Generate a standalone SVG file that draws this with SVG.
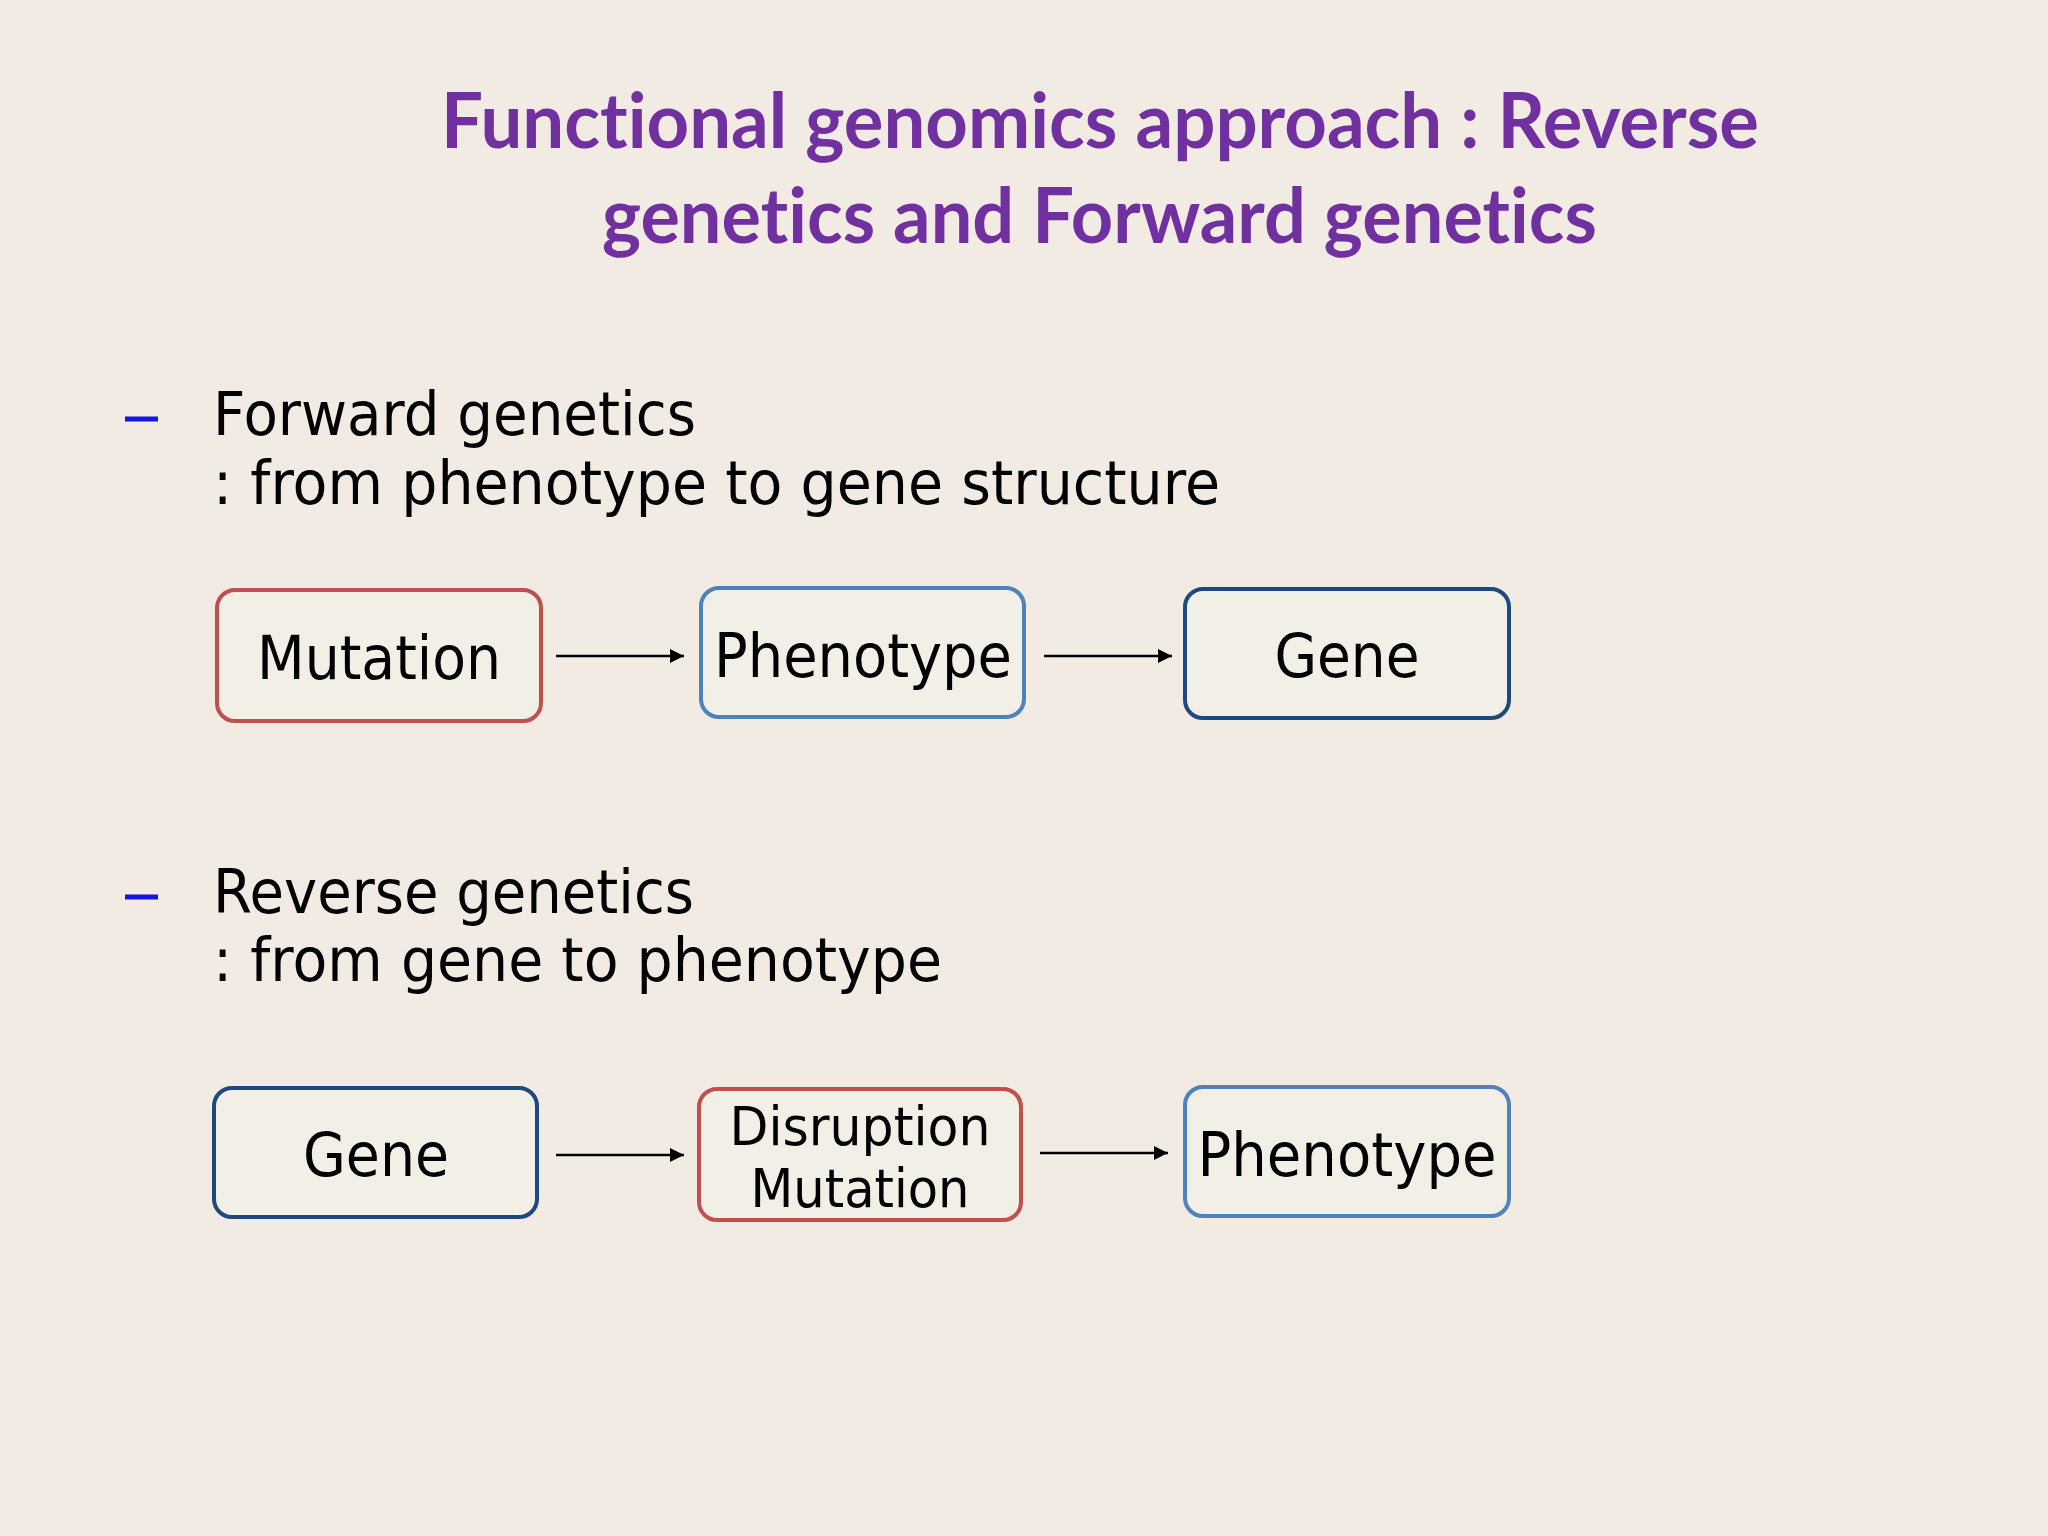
<svg xmlns="http://www.w3.org/2000/svg" width="2048" height="1536" viewBox="0 0 2048 1536">
<style>
.title{font-family:Lato,"Open Sans","Liberation Sans",sans-serif;font-weight:700;font-size:76px;fill:#7030A0;font-variant-ligatures:none;font-feature-settings:"liga" 0}
.body{font-family:"DejaVu Sans",Verdana,sans-serif;font-size:60px;fill:#000}
.lbl{font-family:"DejaVu Sans",Verdana,sans-serif;font-size:60px;fill:#000;text-anchor:middle}
.lbl2{font-family:"DejaVu Sans",Verdana,sans-serif;font-size:54px;fill:#000;text-anchor:middle}
.box{fill:#F1EFE6;stroke-width:4}
.red{stroke:#C0504D}
.lblue{stroke:#4F81BD}
.dblue{stroke:#1F497D}
.dash{stroke:#1515E0;stroke-width:5}
.conn line{stroke:#000;stroke-width:2.5;marker-end:url(#ah)}
</style>
<defs>
<marker id="ah" markerUnits="userSpaceOnUse" markerWidth="16" markerHeight="16" refX="14" refY="7" orient="auto">
<path d="M0,0 L14,7 L0,14 Z" fill="#000"/>
</marker>
</defs>
<rect x="0" y="0" width="2048" height="1536" fill="#F1EBE4"/>
<g id="title">
<text class="title" x="441" y="148" textLength="1318" lengthAdjust="spacingAndGlyphs">Functional genomics approach : Reverse</text>
<text class="title" x="602" y="243" textLength="995" lengthAdjust="spacingAndGlyphs">genetics and Forward genetics</text>
</g>
<g id="forward-text">
<line class="dash" x1="125" y1="419" x2="158" y2="419"/>
<text class="body" x="213" y="435" textLength="483" lengthAdjust="spacingAndGlyphs">Forward genetics</text>
<text class="body" x="213" y="504" textLength="1007" lengthAdjust="spacingAndGlyphs">: from phenotype to gene structure</text>
</g>
<g id="reverse-text">
<line class="dash" x1="125" y1="897" x2="158" y2="897"/>
<text class="body" x="213" y="913" textLength="481" lengthAdjust="spacingAndGlyphs">Reverse genetics</text>
<text class="body" x="213" y="981" textLength="729" lengthAdjust="spacingAndGlyphs">: from gene to phenotype</text>
</g>
<g id="f-mutation">
<rect class="box red" x="217" y="590" width="324" height="131" rx="18"/>
<text class="lbl" x="379" y="679" textLength="244" lengthAdjust="spacingAndGlyphs">Mutation</text>
</g>
<g id="f-phenotype">
<rect class="box lblue" x="701" y="588" width="323" height="129" rx="18"/>
<text class="lbl" x="863" y="677" textLength="298" lengthAdjust="spacingAndGlyphs">Phenotype</text>
</g>
<g id="f-gene">
<rect class="box dblue" x="1185" y="589" width="324" height="129" rx="18"/>
<text class="lbl" x="1347" y="677" textLength="145" lengthAdjust="spacingAndGlyphs">Gene</text>
</g>
<g id="r-gene">
<rect class="box dblue" x="214" y="1088" width="323" height="129" rx="18"/>
<text class="lbl" x="376" y="1176" textLength="146" lengthAdjust="spacingAndGlyphs">Gene</text>
</g>
<g id="r-disruption">
<rect class="box red" x="699" y="1089" width="322" height="131" rx="18"/>
<text class="lbl2" x="860" y="1145" textLength="261" lengthAdjust="spacingAndGlyphs">Disruption</text>
<text class="lbl2" x="860" y="1207" textLength="219" lengthAdjust="spacingAndGlyphs">Mutation</text>
</g>
<g id="r-phenotype">
<rect class="box lblue" x="1185" y="1087" width="324" height="129" rx="18"/>
<text class="lbl" x="1347" y="1176" textLength="299" lengthAdjust="spacingAndGlyphs">Phenotype</text>
</g>
<g id="connectors" class="conn">
<line x1="556" y1="656" x2="684" y2="656"/>
<line x1="1044" y1="656" x2="1172" y2="656"/>
<line x1="556" y1="1155" x2="684" y2="1155"/>
<line x1="1040" y1="1153" x2="1168" y2="1153"/>
</g>
</svg>
